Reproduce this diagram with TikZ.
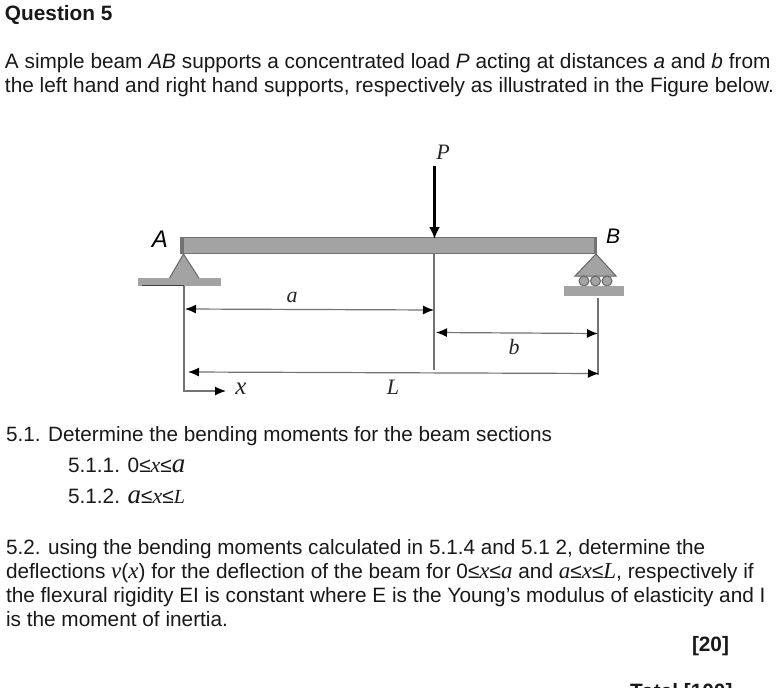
\documentclass[tikz,border=0pt]{standalone}
\usepackage{fontspec}
\setmainfont{Liberation Sans}
\newfontfamily\mathserif{Liberation Serif}
\newcommand{\qm}[1]{{\mathserif\itshape\fontsize{23}{24}\selectfont #1}}
\usetikzlibrary{arrows.meta}
\tikzset{
  txt/.style={anchor=base west,inner sep=0pt,outer sep=0pt,font=\fontsize{20.8}{24}\selectfont,text=black!90},
  txtb/.style={anchor=base west,inner sep=0pt,outer sep=0pt,font=\fontsize{20.7}{24}\selectfont,text=black!90},
  dimlab/.style={inner sep=0pt,font=\mathserif\itshape\fontsize{22}{24}\selectfont,text=black!85},
  suplab/.style={inner sep=0pt,font=\itshape\fontsize{20}{24}\selectfont},
  dimline/.style={draw=black!55,line width=1.2pt},
  dimarrow/.style={dimline,-{Latex[length=11pt,width=9pt,black]}},
  dimboth/.style={dimline,{Latex[length=11pt,width=9pt,black]}-{Latex[length=11pt,width=9pt,black]}},
  beamshape/.style={fill=black!36,draw=black!55,line width=1.2pt},
  support/.style={fill=black!36,draw=black!60,line width=1pt},
  groundbar/.style={fill=black!36,draw=none},
  roller/.style={circle,fill=black!36,draw=black!60,line width=1pt,minimum size=10pt,inner sep=0pt},
  loadarrow/.style={draw=black,line width=2.4pt,-{Latex[length=12pt,width=11pt,black]}}
}
\begin{document}
\begin{tikzpicture}[x=1pt,y=-1pt]
\clip (0,0) rectangle (777,688);
\useasboundingbox (0,0) rectangle (777,688);
\fill[white] (0,0) rectangle (777,688);
% text
\node[txt,font=\bfseries\fontsize{20.8}{24}\selectfont] (title) at (5,20) {Question 5};
\node[txt] (l1) at (5,68) {A simple beam \textit{AB} supports a concentrated load \textit{P} acting at distances \textit{a} and \textit{b} from};
\node[txt] (l2) at (5,92) {the left hand and right hand supports, respectively as illustrated in the Figure below.};
\node[txtb] (q51) at (6,441) {5.1. Determine the bending moments for the beam sections};
\node[txt] (q511) at (68,472) {5.1.1. 0≤{\mathserif\itshape\fontsize{22}{24}\selectfont x}≤{\mathserif\itshape\fontsize{27}{24}\selectfont a}};
\node[txt] (q512) at (68,503) {5.1.2. {\mathserif\itshape\fontsize{27}{24}\selectfont a}≤{\mathserif\itshape\fontsize{22}{24}\selectfont x}≤{\mathserif\itshape\fontsize{20}{24}\selectfont L}};
\node[txtb] (q52a) at (6,554) {5.2. using the bending moments calculated in 5.1.4 and 5.1 2, determine the};
\node[txt] (q52b) at (6,578) {deflections \qm{v}(\qm{x}) for the deflection of the beam for 0≤\qm{x}≤\qm{a} and \qm{a}≤\qm{x}≤\qm{L}, respectively if};
\node[txt] (q52c) at (6,602) {the flexural rigidity EI is constant where E is the Young's modulus of elasticity and I};
\node[txt] (q52d) at (6,626) {is the moment of inertia.};
\node[txt,font=\bfseries\fontsize{20.8}{24}\selectfont] (marks) at (692,651) {[20]};
\node[txt,font=\bfseries\fontsize{20.8}{24}\selectfont] (total) at (630,698) {Total [100]};
% beam
\node[beamshape,minimum width=416pt,minimum height=16pt,inner sep=0pt] (beam) at (388.5,245.5) {};
\fill[black!55] (180.5,238) rectangle (184,253);
\fill[black!55] (594,238) rectangle (597,253);
% left support
\coordinate (Aapex) at (183.5,254);
\coordinate (Abl) at (169,279);
\coordinate (Abr) at (199.5,279);
\draw[support] (Aapex) -- (Abl) -- (Abr) -- cycle;
\node[groundbar,minimum width=83pt,minimum height=8pt,inner sep=0pt] (Aground) at (179.5,282) {};
\coordinate (Adl) at (142,285.5);
\coordinate (Adr) at (184,285.5);
\draw[draw=black!75,line width=1pt] (Adl) -- (Adr);
% right support
\coordinate (Bapex) at (596,254);
\coordinate (Bbl) at (575,276);
\coordinate (Bbr) at (616,276);
\draw[support] (Bapex) -- (Bbl) -- (Bbr) -- cycle;
\node[roller] (r1) at (584,281) {};
\node[roller] (r2) at (595.5,281) {};
\node[roller] (r3) at (607,281) {};
\node[groundbar,minimum width=60pt,minimum height=10.5pt,inner sep=0pt] (Bground) at (594,291) {};
% load
\coordinate (Ptop) at (434.5,166);
\coordinate (Ptip) at (434.5,239);
\draw[loadarrow] (Ptop) -- (Ptip);
\node[dimlab] (P) at (443,152) {P};
% labels
\node[suplab,font=\itshape\fontsize{24}{24}\selectfont] (A) at (160,239) {A};
\node[suplab,font=\itshape\fontsize{21}{24}\selectfont] (B) at (613,236) {B};
\node[dimlab] (la) at (292,297) {a};
\node[dimlab] (lb) at (514,347) {b};
\node[dimlab] (lL) at (393,387) {L};
\node[dimlab,font=\mathserif\itshape\fontsize{25}{24}\selectfont] (lx) at (241,389) {x};
% extension lines
\coordinate (ext1a) at (184,286);
\coordinate (ext1b) at (184,391);
\coordinate (xtip) at (226,391);
\draw[dimarrow] (ext1a) -- (ext1b) -- (xtip);
\coordinate (ext2a) at (434,254);
\coordinate (ext2b) at (434,370);
\draw[dimline] (ext2a) -- (ext2b);
\coordinate (ext3a) at (598,298);
\coordinate (ext3b) at (598,375);
\draw[dimline] (ext3a) -- (ext3b);
% dimensions
\coordinate (ad1) at (185,309);
\coordinate (ad2) at (434,310);
\draw[dimboth] (ad1) -- (ad2);
\coordinate (bd1) at (436,332.5);
\coordinate (bd2) at (598,333.5);
\draw[dimboth] (bd1) -- (bd2);
\coordinate (Ld1) at (188,372);
\coordinate (Ld2) at (599,373.5);
\draw[dimboth] (Ld1) -- (Ld2);
\end{tikzpicture}
\end{document}
